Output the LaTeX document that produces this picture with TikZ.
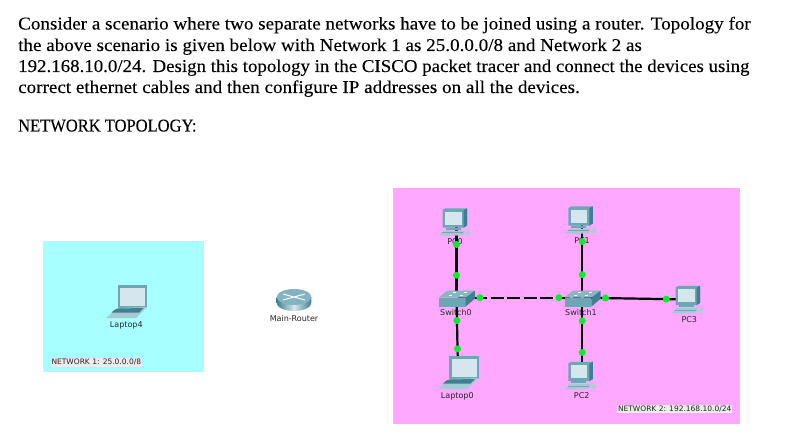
\documentclass[tikz,border=0pt]{standalone}
\usepackage{graphicx}
\usepackage{fontspec}
\setmainfont[FakeStretch=1.06,FakeBold=0.12]{Liberation Serif}
\newfontfamily\devfont{DejaVu Sans}
\definecolor{pinkzone}{HTML}{FFA8FF}
\definecolor{cyanzone}{HTML}{A8FFFF}
\definecolor{tealdark}{HTML}{3F7F92}
\definecolor{tealmid}{HTML}{6FA6B5}
\definecolor{teallight}{HTML}{D5E6EC}
\definecolor{linkgreen}{HTML}{0CEC2C}
\tikzset{
	pcicon/.pic={
		\fill[tealmid] (-14,-12) -- (-11,-13.7) -- (10.5,-13.7) -- (10.5,3.5) -- (7,5.7) -- (-14,5.7) -- cycle;
		\fill[tealdark] (7,-12) -- (10.5,-13.7) -- (10.5,3.5) -- (7,5.7) -- cycle;
		\fill[teallight] (-11.5,-10.3) rectangle (5,2.8);
		\fill[tealmid] (-11,5.7) rectangle (4,7.5);
		\fill[teallight!55!tealmid] (-18,13.7) -- (-13,8.5) -- (8.5,8.5) -- (6,13.7) -- cycle;
		\draw[tealdark!70,line width=.6pt] (-14.5,10.5) -- (6.5,10.5);
		\draw[teallight!60!tealmid,line width=.8pt] (6,12) .. controls (10,13) and (11,8) .. (14,7);
		\fill[teallight!60!tealmid] (11.5,11) circle (2.6);
	},
	laptopicon/.pic={
		\fill[tealmid] (-8.8,-16.5) rectangle (20.5,6.5);
		\fill[teallight] (-6.5,-14) rectangle (18.5,4);
		\fill[teallight!55!tealmid] (-20.5,16.5) -- (-8.8,6.5) -- (20.5,5.5) -- (9.5,16.5) -- cycle;
		\fill[tealdark] (-11.5,8) -- (-8,7) -- (17,6.5) -- (12.5,11) -- (-15,11) -- cycle;
	},
	switchicon/.pic={
		\fill[tealmid!75!teallight] (-17.7,0) -- (-9.3,-7) -- (18.3,-7) -- (9,0) -- cycle;
		\fill[tealmid] (-17.7,0) rectangle (9,9);
		\fill[tealdark] (9,0) -- (18.3,-7) -- (18.3,1) -- (9,9) -- cycle;
		\draw[white,line width=.8pt] (-8,-2) -- (-5,-2) (3,-2) -- (6,-2) (-4,-5) -- (-1,-5) (7,-5) -- (10,-5);
	},
	routericon/.pic={
		\shade[left color=tealdark,right color=tealdark,middle color=teallight] (-17.3,-3) -- (-17.3,3) arc[start angle=180,end angle=0,x radius=17.3,y radius=8] -- (17.3,-3) -- cycle;
		\fill[tealmid!80!teallight] (0,-3) ellipse[x radius=17.3,y radius=8];
		\draw[white,line width=1pt] (-11,-6) -- (11,0) (-11,0) -- (11,-6);
	}
}
\begin{document}
\begin{tikzpicture}[x=1pt,y=-1pt]
	\tikzstyle{para}=[anchor=base west,inner sep=0pt,font=\fontsize{18}{20}\selectfont]
	\tikzstyle{devbox}=[inner sep=0pt,minimum size=2pt]
	\tikzstyle{lab}=[inner sep=0pt,text=black!85,font=\devfont\fontsize{8}{9}\selectfont]
	\tikzstyle{netlab}=[fill=white!92!black,inner sep=1pt,text=black!85,font=\devfont\fontsize{7.5}{9}\selectfont]
	\tikzstyle{link}=[black,line width=2.2pt]
	\tikzstyle{lamp}=[circle,fill=linkgreen,inner sep=0pt,minimum size=7pt]
	\useasboundingbox (0,0) rectangle (794,441);
	% text
	\node[para] (L1) at (18,29.5) {Consider a scenario where two separate networks have to be joined using a router. Topology for};
	\node[para] (L2) at (18,51) {the above scenario is given below with Network 1 as 25.0.0.0/8 and Network 2 as};
	\node[para] (L3) at (18,72) {\scalebox{.99}[1]{192.168.10.0/24. Design this topology in the CISCO packet tracer and connect the devices using}};
	\node[para] (L4) at (18,93) {correct ethernet cables and then configure IP addresses on all the devices.};
	\node[para] (L5) at (18,131.5) {\scalebox{.865}[1]{NETWORK TOPOLOGY:}};
	% zones
	\fill[cyanzone] (42.7,241) rectangle (203.7,372.3);
	\fill[pinkzone] (392.7,188) rectangle (740,424);
	% devices
	\node[devbox] (Laptop4) at (126.5,301.5) {};
	\node[devbox] (Router) at (294,300) {};
	\node[devbox] (PC0) at (456.5,222) {};
	\node[devbox] (PC1) at (582.3,220) {};
	\node[devbox] (PC2) at (582.3,375.5) {};
	\node[devbox] (PC3) at (689.5,299.5) {};
	\node[devbox] (Laptop0) at (458,372.5) {};
	\node[devbox] (Switch0) at (456.5,297.7) {};
	\node[devbox] (Switch1) at (582.3,297.7) {};
	% labels
	\node[lab] (tLaptop4) at (126.3,325) {Laptop4};
	\node[lab] (tRouter) at (294,318.3) {Main-Router};
	\node[lab] (tPC0) at (455,242) {PC0};
	\node[lab] (tPC1) at (582,240.5) {PC1};
	\node[lab] (tPC2) at (581.7,396) {PC2};
	\node[lab] (tPC3) at (689.3,319.7) {PC3};
	\node[lab] (tLaptop0) at (457.3,396) {Laptop0};
	\node[lab] (tSwitch0) at (456,313) {Switch0};
	\node[lab] (tSwitch1) at (581,313) {Switch1};
	\node[netlab] (tNet1) at (96.3,362.5) {NETWORK 1: 25.0.0.0/8};
	\node[netlab] (tNet2) at (674.7,409) {NETWORK 2: 192.168.10.0/24};
	% links
	\draw[link] (PC0) -- node[lamp,pos=.29] (a0) {} node[lamp,pos=.71] (b0) {} (Switch0);
	\draw[link] (PC1) -- node[lamp,pos=.27] (a1) {} node[lamp,pos=.71] (b1) {} (Switch1);
	\draw[link] (Switch0) -- node[lamp,pos=.3] (a2) {} node[lamp,pos=.69] (b2) {} (Laptop0);
	\draw[link] (Switch1) -- node[lamp,pos=.29] (a3) {} node[lamp,pos=.71] (b3) {} (PC2);
	\draw[link] (Switch1) -- node[lamp,pos=.21] (a4) {} node[lamp,pos=.79] (b4) {} (PC3);
	\draw[link,dash pattern=on 13pt off 3.5pt] (Switch0) -- node[lamp,pos=.18] (a5) {} node[lamp,pos=.82] (b5) {} (Switch1);
	% icons
	\pic at (Laptop4) {laptopicon};
	\pic at (Router) {routericon};
	\pic at (PC0) {pcicon};
	\pic at (PC1) {pcicon};
	\pic at (PC2) {pcicon};
	\pic at (PC3) {pcicon};
	\pic at (Laptop0) {laptopicon};
	\pic at (Switch0) {switchicon};
	\pic at (Switch1) {switchicon};
\end{tikzpicture}
\end{document}
